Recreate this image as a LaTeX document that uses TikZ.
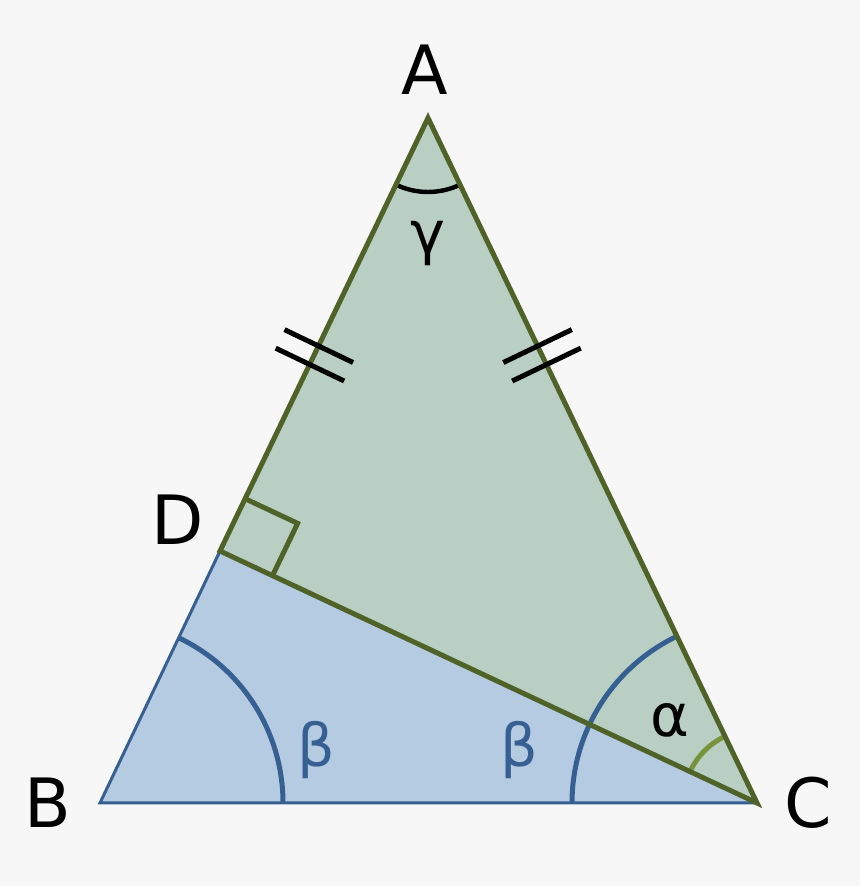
\documentclass[tikz,border=0pt]{standalone}
\usepackage{fontspec}
\setmainfont{DejaVu Sans}
\usetikzlibrary{calc}
\definecolor{paper}{RGB}{247,247,247}
\definecolor{greenfill}{RGB}{186,207,196}
\definecolor{bluefill}{RGB}{181,203,226}
\definecolor{greenline}{RGB}{79,98,40}
\definecolor{blueline}{RGB}{55,96,146}
\definecolor{lightgreen}{RGB}{119,147,60}

\begin{document}
\begin{tikzpicture}[
    x=0.5pt, y=0.5pt,
    greenedge/.style={draw=greenline, line width=2.5pt, line join=miter},
    blueedge/.style={draw=blueline, line width=1.5pt, line join=miter},
    betaarc/.style={draw=blueline, line width=2.5pt},
    tick/.style={draw=black, line width=2.5pt},
    vertex/.style={font=\fontsize{34}{40}\selectfont, text=black},
    anglelabel/.style={font=\fontsize{29.5}{36}\selectfont}
]
    \fill[paper] (0,0) rectangle (860,886);
    \useasboundingbox (0,0) rectangle (860,886);

    % corners
    \coordinate (A) at (428,768);
    \coordinate (B) at (100,83);
    \coordinate (C) at (757,83);
    \coordinate (D) at (220,335);

    % fills
    \fill[bluefill] (B) -- (D) -- (C) -- cycle;
    \fill[greenfill] (A) -- (D) -- (C) -- cycle;

    % beta arcs
    \draw[betaarc] ($(B)+(0:91.5pt)$) arc[start angle=0, end angle=64.4, radius=91.5pt];
    \draw[betaarc] ($(C)+(115.65:92.5pt)$) arc[start angle=115.65, end angle=180, radius=92.5pt];

    % alpha and gamma arcs
    \draw[draw=lightgreen, line width=2.5pt] ($(C)+(115.65:37pt)$) arc[start angle=115.65, end angle=154.86, radius=37pt];
    \draw[draw=black, line width=2.2pt] ($(A)+(244.4:37pt)$) arc[start angle=244.4, end angle=295.65, radius=37pt];

    % sides
    \draw[blueedge] (D) -- (B) -- (C);
    \draw[greenedge] (C) -- (A) -- (D) -- cycle;

    % right angle at D
    \coordinate (DA) at ($(D)!29pt!(A)$);
    \coordinate (DC) at ($(D)!29pt!(C)$);
    \draw[greenedge] (DA) -- ($(DA)+(DC)-(D)$) -- (DC);

    % equal sides ticks
    \foreach \t in {0.333,0.36} {
        \coordinate (p) at ($(A)!\t!(B)$);
        \draw[tick] ($(p)!19pt!90:(A)$) -- ($(p)!19pt!-90:(A)$);
        \coordinate (q) at ($(A)!\t!(C)$);
        \draw[tick] ($(q)!19pt!90:(A)$) -- ($(q)!19pt!-90:(A)$);
    }

    % labels
    \node[vertex] (labA) at (425,816) {A};
    \node[vertex] (labB) at (48,83) {B};
    \node[vertex] (labC) at (808,83) {C};
    \node[vertex] (labD) at (178,366) {D};
    \node[anglelabel, text=black] (gamma) at (428,642) {γ};
    \node[anglelabel, text=blueline] (beta1) at (316,136) {β};
    \node[anglelabel, text=blueline] (beta2) at (519,136) {β};
    \node[anglelabel, text=black] (alpha) at (670,166) {α};
\end{tikzpicture}
\end{document}
